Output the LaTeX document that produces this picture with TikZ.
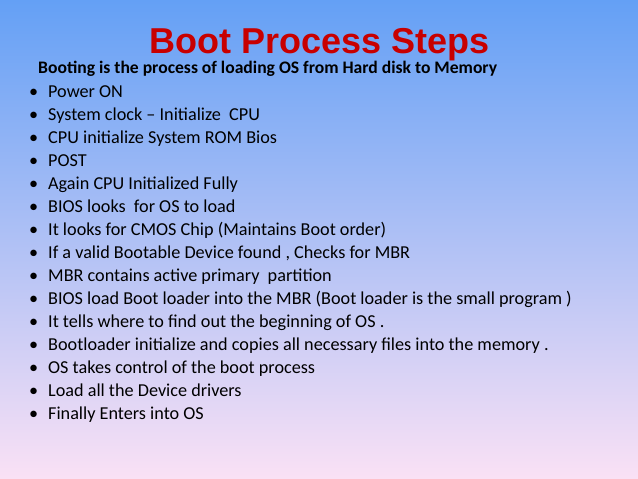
\documentclass[tikz,border=0pt]{standalone}
\usepackage{fontspec}
\setmainfont{Carlito}
\newfontfamily\titlefont{Liberation Sans}
\begin{document}
\begin{tikzpicture}[x=1pt,y=-1pt,
  item/.style={anchor=base west,inner sep=0pt,font=\fontsize{18.2}{20}\selectfont},
  dot/.style={anchor=base west,inner sep=0pt,font=\fontsize{18.2}{20}\selectfont}]
\shade[top color={rgb,255:red,100;green,160;blue,245},middle color={rgb,255:red,200;green,215;blue,250},bottom color={rgb,255:red,250;green,225;blue,245}] (0,0) rectangle (638,479);
\useasboundingbox (0,0) rectangle (638,479);
\node[anchor=base,inner sep=0pt,font=\titlefont\bfseries\fontsize{36}{40}\selectfont,text={rgb,255:red,200;green,0;blue,0}] (title) at (320,53) {Boot Process Steps};
\node[item,font=\bfseries\fontsize{17.6}{20}\selectfont] (sub) at (38,73) {Booting is the process of loading OS from Hard disk to Memory};
\foreach \t [count=\i] in {Power ON,System clock -- Initialize~ CPU,CPU initialize System ROM Bios,POST,Again CPU Initialized Fully,BIOS looks~ for OS to load,It looks for CMOS Chip (Maintains Boot order),{If a valid Bootable Device found , Checks for MBR},MBR contains active primary~ partition,BIOS load Boot loader into the MBR (Boot loader is the small program ),It tells where to find out the beginning of OS .,Bootloader initialize and copies all necessary files into the memory .,OS takes control of the boot process,Load all the Device drivers,Finally Enters into OS}{
  \node[dot] (b\i) at (29,{74+23*\i}) {•};
  \node[item] (t\i) at (48,{74+23*\i}) {\t};
}
\end{tikzpicture}
\end{document}
